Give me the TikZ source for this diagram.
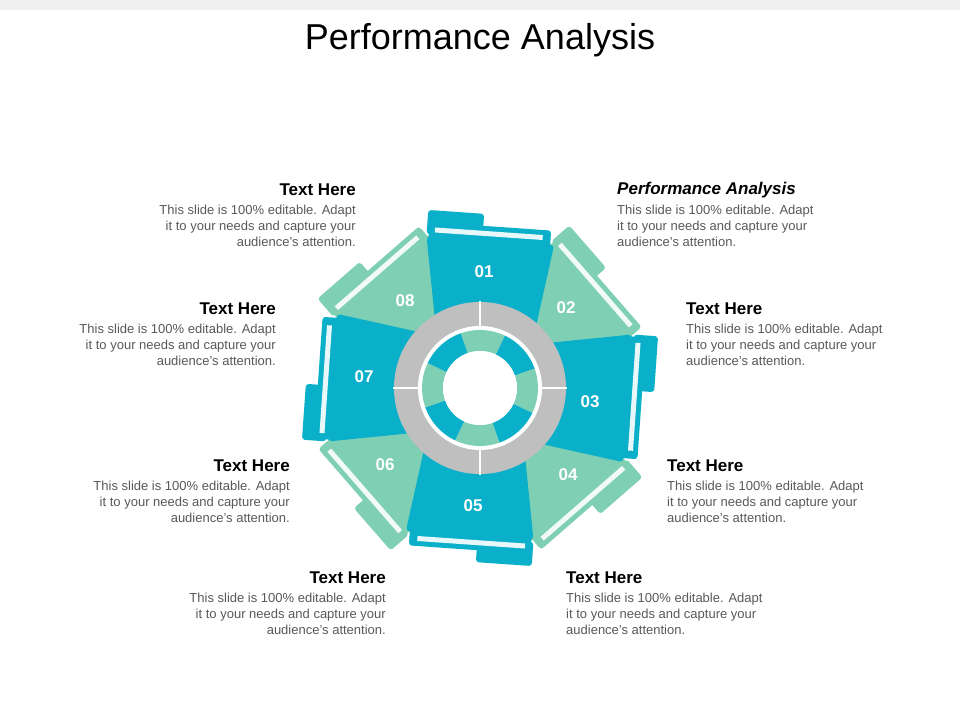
\documentclass[tikz,border=0pt]{standalone}
\usepackage{fontspec}
\setmainfont{Liberation Sans}
\usepackage{xcolor}
\definecolor{folderblue}{HTML}{0AB0C9}
\definecolor{foldergreen}{HTML}{7ECFB3}
\definecolor{ringgray}{HTML}{BFBFBF}
\definecolor{bodygray}{HTML}{595959}
\tikzset{
  headL/.style={anchor=east,inner sep=0pt,font=\bfseries\fontsize{17}{19}\selectfont},
  headR/.style={anchor=west,inner sep=0pt,font=\bfseries\fontsize{17}{19}\selectfont},
  bodyL/.style={anchor=north east,inner sep=0pt,align=right,text=bodygray,font=\fontsize{13}{16}\selectfont},
  bodyR/.style={anchor=north west,inner sep=0pt,align=left,text=bodygray,font=\fontsize{13}{16}\selectfont},
  numtext/.style={text=white,font=\bfseries\fontsize{17}{19}\selectfont}
}
\begin{document}
\begin{tikzpicture}[x=1pt,y=1pt]
        \useasboundingbox (0,0) rectangle (960,720);
        \fill[white] (0,0) rectangle (960,720);
        \fill[black!6] (0,710) rectangle (960,720);
        % Title
        \node (title) at (480,680) {\fontsize{36}{40}\selectfont Performance Analysis};

        %Shape: Folders
        \begin{scope}[shift={(480,332)}]
        \foreach \k/\col in {2/foldergreen,4/foldergreen,6/foldergreen,8/foldergreen,1/folderblue,3/folderblue,5/folderblue,7/folderblue}{
          \begin{scope}[rotate={-45*(\k-1)-4}]
            \fill[\col, rounded corners=3pt] (-62,140) rectangle (60,162);
            \fill[\col, rounded corners=3pt] (-64,150) rectangle (-8,174);
            \fill[white!90!\col] (-56,152) rectangle (52,157);
            \fill[\col, rounded corners=4pt] (-64,148) -- (64,148) -- (50,55) -- (-48,55) -- cycle;
          \end{scope}
        }
        %Shape: Ring
        \fill[ringgray] (0,0) circle (86);
        \fill[white] (0,0) circle (62);
        \foreach \a in {0,90,180,270}{
          \draw[white,line width=1.5pt] (\a:62) -- (\a:87);
        }
        %Shape: Gear
        \foreach \i in {0,...,7}{
          \pgfmathsetmacro{\st}{90-45*\i+22.5-3}
          \pgfmathsetmacro{\en}{\st-45}
          \pgfmathparse{mod(\i,2)==0 ? "foldergreen" : "folderblue"}
          \edef\gcol{\pgfmathresult}
          \fill[\gcol] (\st:58) arc[start angle=\st,end angle=\en,radius=58] -- (\en:37) arc[start angle=\en,end angle=\st,radius=37] -- cycle;
        }
        \fill[white] (0,0) circle (37);
        \end{scope}

        % Number Nodes
        \node[numtext] (n01) at (484,448) {01};
        \node[numtext] (n02) at (566,412) {02};
        \node[numtext] (n03) at (590,318) {03};
        \node[numtext] (n04) at (568,245) {04};
        \node[numtext] (n05) at (473,214) {05};
        \node[numtext] (n06) at (385,255) {06};
        \node[numtext] (n07) at (364,343) {07};
        \node[numtext] (n08) at (405,419) {08};

        % Text Node
        \node[headL] (h1) at (356,530) {Text Here};
        \node[bodyL] (b1) at (356,515) {This slide is 100\% editable. Adapt\\it to your needs and capture your\\audience's attention.};
        % Text Node
        \node[headR,font=\bfseries\itshape\fontsize{17}{19}\selectfont] (h2) at (617,530) {Performance Analysis};
        \node[bodyR] (b2) at (617,515) {This slide is 100\% editable. Adapt\\it to your needs and capture your\\audience's attention.};
        % Text Node
        \node[headR] (h3) at (686,411) {Text Here};
        \node[bodyR] (b3) at (686,396) {This slide is 100\% editable. Adapt\\it to your needs and capture your\\audience's attention.};
        % Text Node
        \node[headL] (h4) at (276,411) {Text Here};
        \node[bodyL] (b4) at (276,396) {This slide is 100\% editable. Adapt\\it to your needs and capture your\\audience's attention.};
        % Text Node
        \node[headR] (h5) at (667,254) {Text Here};
        \node[bodyR] (b5) at (667,239) {This slide is 100\% editable. Adapt\\it to your needs and capture your\\audience's attention.};
        % Text Node
        \node[headL] (h6) at (290,254) {Text Here};
        \node[bodyL] (b6) at (290,239) {This slide is 100\% editable. Adapt\\it to your needs and capture your\\audience's attention.};
        % Text Node
        \node[headR] (h7) at (566,142) {Text Here};
        \node[bodyR] (b7) at (566,127) {This slide is 100\% editable. Adapt\\it to your needs and capture your\\audience's attention.};
        % Text Node
        \node[headL] (h8) at (386,142) {Text Here};
        \node[bodyL] (b8) at (386,127) {This slide is 100\% editable. Adapt\\it to your needs and capture your\\audience's attention.};
\end{tikzpicture}
\end{document}
